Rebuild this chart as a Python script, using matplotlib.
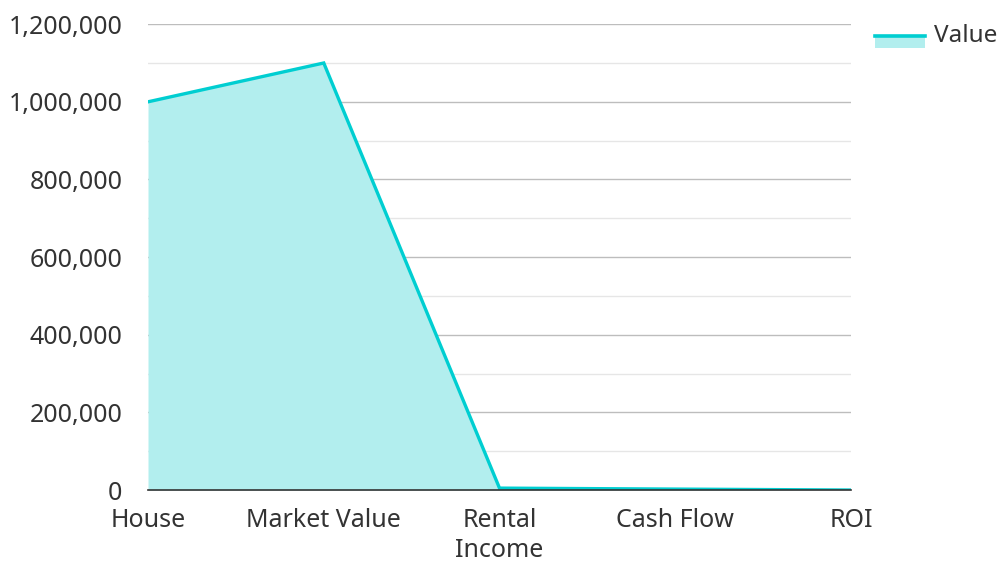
import matplotlib
matplotlib.use("Agg")
import matplotlib.pyplot as plt
from matplotlib.patches import Rectangle
from matplotlib.lines import Line2D
from matplotlib.ticker import FuncFormatter, MultipleLocator

# Data
categories = ["House", "Market Value", "Rental\nIncome", "Cash Flow", "ROI"]
values = [1000000, 1100000, 5000, 2500, 100]
y_ticks = [0, 200000, 400000, 600000, 800000, 1000000, 1200000]

LINE_COLOR = "#00CED1"
FILL_COLOR = "#B2EEEE"
TEXT_COLOR = "#333333"

plt.rcParams["font.family"] = ["Noto Sans", "DejaVu Sans"]

fig = plt.figure(figsize=(10, 5.62), dpi=100)
ax = fig.add_axes([0.148, 0.128, 0.703, 0.829])

x = list(range(len(categories)))
ax.fill_between(x, values, 0, color=FILL_COLOR, linewidth=0, zorder=2)
ax.plot(x, values, color=LINE_COLOR, linewidth=2.4, zorder=3,
        solid_joinstyle="miter")

ax.set_xlim(0, len(categories) - 1)
ax.set_ylim(0, 1200000)
ax.set_yticks(y_ticks)
ax.yaxis.set_minor_locator(MultipleLocator(100000))
ax.yaxis.set_major_formatter(FuncFormatter(lambda v, _: f"{int(v):,}"))
ax.set_xticks(x)
ax.set_xticklabels(categories)

ax.grid(axis="y", which="major", color="#BDBDBD", linewidth=1.0, zorder=1)
ax.grid(axis="y", which="minor", color="#E6E6E6", linewidth=1.0, zorder=1)
ax.grid(axis="x", visible=False)
ax.set_axisbelow(True)

for side in ["top", "right", "left"]:
    ax.spines[side].set_visible(False)
ax.spines["bottom"].set_color("#333333")
ax.spines["bottom"].set_linewidth(1.2)
ax.spines["bottom"].set_zorder(4)

ax.tick_params(axis="both", which="both", length=0, labelsize=18,
               labelcolor=TEXT_COLOR)
ax.tick_params(axis="y", pad=18.5)
ax.tick_params(axis="x", pad=13)
for lbl in ax.get_xticklabels():
    lbl.set_linespacing(1.25)

# Legend drawn by hand: filled swatch with the line along its top edge
fig.patches.append(Rectangle((0.875, 1 - 48 / 562), 0.05, 13 / 562,
                             transform=fig.transFigure, facecolor=FILL_COLOR,
                             edgecolor="none"))
fig.lines.append(Line2D([0.875, 0.925], [1 - 36 / 562, 1 - 36 / 562],
                        transform=fig.transFigure, color=LINE_COLOR,
                        linewidth=2.6))
fig.text(0.934, 1 - 36 / 562, "Value", fontsize=17.5, color=TEXT_COLOR,
         va="center", ha="left")

fig.savefig("out.png", dpi=100)
